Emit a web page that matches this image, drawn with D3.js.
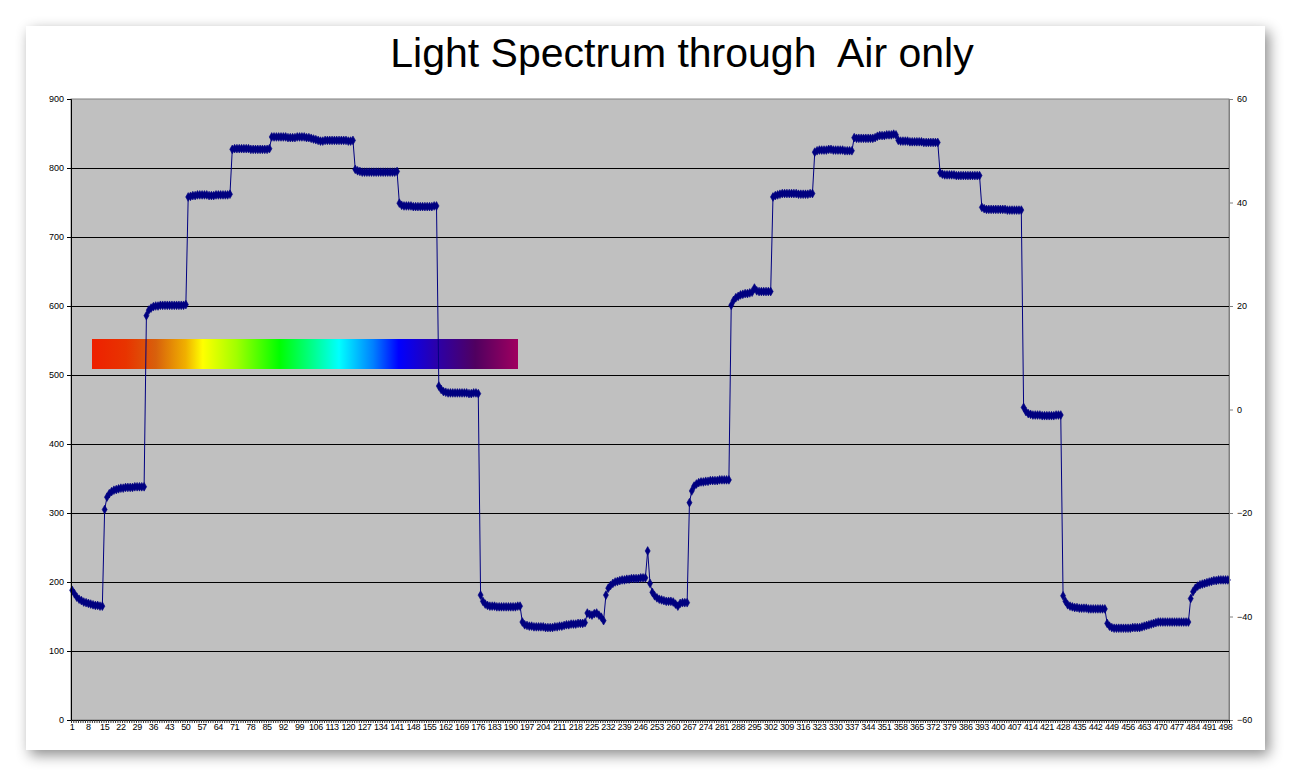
<!DOCTYPE html>
<html>
<head>
<meta charset="utf-8">
<script src="https://cdn.jsdelivr.net/npm/d3@7"></script>
<style>
  body { margin: 0; background: #fff; }
  svg { display: block; }
  text { font-family: Arial, "Liberation Sans", sans-serif; }
</style>
</head>
<body>
<svg id="chart"></svg>
<script>
// readings, one array per step of the sweep
const step01 = [188, 183, 178, 175, 173, 171, 170, 169, 168, 167, 166, 166, 165, 165];
const step02 = [305, 323, 328, 331, 333, 334, 335, 336, 336, 337, 337, 337, 337, 338, 338, 338, 338, 338];
const step03 = [586, 594, 597, 599, 600, 600, 601, 601, 601, 601, 601, 601, 601, 601, 601, 601, 601, 602];
const step04 = [758, 759, 760, 760, 761, 761, 761, 761, 761, 760, 760, 760, 761, 761, 761, 761, 761, 761, 762];
const step05 = [827, 828, 828, 828, 828, 828, 828, 828, 827, 827, 827, 827, 827, 827, 827, 827, 828];
const step06 = [845, 845, 845, 845, 845, 845, 845, 844, 844, 844, 844, 845, 845, 845, 845, 844, 844, 843, 842,
                841, 840, 839, 839, 840, 840, 840, 840, 840, 840, 840, 840, 840, 840, 839, 839, 840];
const step07 = [798, 796, 795, 794, 794, 794, 794, 794, 794, 794, 794, 794, 794, 794, 794, 794, 794, 794, 795];
const step08 = [749, 746, 745, 745, 745, 745, 744, 744, 744, 744, 744, 744, 744, 744, 744, 745, 745];
const step09 = [484, 479, 476, 475, 474, 474, 474, 474, 474, 474, 474, 474, 474, 473, 473, 474, 474, 473];
const step10 = [181, 172, 168, 166, 165, 165, 165, 164, 164, 164, 164, 164, 164, 164, 164, 164, 165, 165];
const step11 = [142, 138, 137, 136, 136, 135, 135, 135, 135, 135, 134, 134, 134, 134, 135, 135, 136, 136, 137, 138,
                138, 139, 139, 139, 140, 140, 140, 141];
const step12 = [155, 153, 152, 154, 155, 152, 149, 144];
const step13 = [181, 191, 195, 198, 200, 201, 202, 203, 203, 204, 204, 205, 205, 205, 205, 206, 206, 206, 245];
const step14 = [198, 185, 180, 177, 175, 174, 173, 172, 172, 172, 171, 168, 165, 169, 170, 170, 170];
const step15 = [315, 332, 339, 342, 344, 345, 345, 346, 346, 347, 347, 347, 347, 348, 348, 348, 348, 348];
const step16 = [601, 608, 612, 614, 616, 617, 618, 618, 619, 620, 626, 622, 621, 621, 621, 621, 621, 621];
const step17 = [758, 760, 761, 762, 763, 763, 763, 763, 763, 763, 763, 762, 762, 762, 762, 762, 763, 763];
const step18 = [823, 825, 826, 826, 826, 826, 827, 827, 826, 826, 826, 826, 826, 825, 825, 825, 825];
const step19 = [844, 843, 843, 843, 843, 843, 843, 843, 843, 844, 846, 847, 847, 847, 848, 848, 848, 849, 848];
const step20 = [840, 839, 839, 839, 839, 838, 838, 838, 838, 838, 838, 837, 837, 837, 837, 837, 837, 837];
const step21 = [793, 791, 790, 790, 790, 790, 790, 789, 789, 789, 789, 789, 789, 789, 789, 789, 789, 789];
const step22 = [743, 741, 740, 740, 740, 740, 740, 740, 740, 740, 740, 739, 739, 739, 739, 739, 739, 739];
const step23 = [453, 447, 444, 443, 442, 442, 442, 442, 441, 441, 441, 441, 441, 441, 442, 442, 442];
const step24 = [180, 172, 167, 165, 164, 163, 163, 162, 162, 162, 162, 161, 161, 161, 161, 161, 161, 161, 161];
const step25 = [140, 136, 134, 133, 133, 133, 133, 133, 133, 133, 133, 134, 134, 134, 134, 135, 136, 137, 138, 139,
                140, 141, 142, 142, 142, 142, 142, 142, 142, 142, 142, 142, 142, 142, 142, 142];
const step26 = [176, 186, 191, 194, 196, 197, 198, 199, 200, 201, 202, 202, 203, 203, 203, 203, 203];

const intensity = [].concat(step01, step02, step03, step04, step05, step06, step07, step08, step09,
  step10, step11, step12, step13, step14, step15, step16, step17, step18, step19, step20,
  step21, step22, step23, step24, step25, step26);

const categories = intensity.map((d, i) => i + 1);
const xLabels = categories.filter(c => (c - 1) % 7 === 0);
const leftTicks = [0, 100, 200, 300, 400, 500, 600, 700, 800, 900];
const rightTicks = [-60, -40, -20, 0, 20, 40, 60];
const title = 'Light Spectrum through  Air only';

const width = 1291, height = 776;
const plot = {left: 71, right: 1229, top: 99, bottom: 720};

const svg = d3.select('#chart')
  .attr('width', width)
  .attr('height', height);

const defs = svg.append('defs');

const shadow = defs.append('filter')
  .attr('id', 'shadow')
  .attr('x', '-5%').attr('y', '-5%')
  .attr('width', '110%').attr('height', '112%');
shadow.append('feDropShadow')
  .attr('dx', 4).attr('dy', 5)
  .attr('stdDeviation', 7)
  .attr('flood-color', '#000')
  .attr('flood-opacity', 0.45);

const grad = defs.append('linearGradient').attr('id', 'spectrum');
[[0, '#ee2000'], [0.08, '#e83400'], [0.15, '#d8600c'], [0.22, '#f0b000'], [0.26, '#ffff00'],
 [0.34, '#a0ff00'], [0.44, '#00ff00'], [0.52, '#00ff90'], [0.58, '#00ffff'], [0.66, '#0080ff'],
 [0.72, '#0000ff'], [0.82, '#3000a0'], [0.9, '#500060'], [1, '#a00060']]
  .forEach(s => grad.append('stop').attr('offset', s[0]).attr('stop-color', s[1]));

// white card with shadow
svg.append('rect')
  .attr('x', 26).attr('y', 26)
  .attr('width', 1239).attr('height', 724)
  .attr('fill', '#fff')
  .attr('filter', 'url(#shadow)');

const x = d3.scaleBand()
  .domain(categories)
  .range([plot.left, plot.right]);

const y = d3.scaleLinear()
  .domain([0, 900])
  .range([plot.bottom, plot.top]);

const y2 = d3.scaleLinear()
  .domain([-60, 60])
  .range([plot.bottom, plot.top]);

const cx = d => x(d) + x.bandwidth() / 2;

// plot area
svg.append('rect')
  .attr('x', plot.left).attr('y', plot.top)
  .attr('width', plot.right - plot.left)
  .attr('height', plot.bottom - plot.top)
  .attr('fill', '#c0c0c0')
  .attr('stroke', '#808080')
  .attr('stroke-width', 1);

// gridlines
svg.append('g')
  .selectAll('line')
  .data(leftTicks.filter(t => t > 0 && t < 900))
  .enter().append('line')
  .attr('x1', plot.left).attr('x2', plot.right)
  .attr('y1', d => Math.round(y(d)) + 0.5)
  .attr('y2', d => Math.round(y(d)) + 0.5)
  .attr('stroke', '#000')
  .attr('stroke-width', 1);

// spectrum bar
svg.append('rect')
  .attr('x', 92).attr('y', 339)
  .attr('width', 426).attr('height', 30)
  .attr('fill', 'url(#spectrum)');

// series
const line = d3.line()
  .x((d, i) => cx(categories[i]))
  .y(d => y(d));

svg.append('path')
  .datum(intensity)
  .attr('d', line)
  .attr('fill', 'none')
  .attr('stroke', '#000080')
  .attr('stroke-width', 1);

const diamond = d3.symbol().type(d3.symbolDiamond).size(22);
svg.append('g')
  .selectAll('path')
  .data(intensity)
  .enter().append('path')
  .attr('d', diamond)
  .attr('transform', (d, i) => 'translate(' + cx(categories[i]) + ',' + y(d) + ')')
  .attr('fill', '#000080')
  .attr('stroke', '#000080')
  .attr('stroke-width', 0.6);

// axes
const leftAxis = svg.append('g')
  .attr('transform', 'translate(' + plot.left + ',0)')
  .call(d3.axisLeft(y).tickValues(leftTicks).tickSize(4).tickPadding(3).tickFormat(d3.format('d')));

const rightAxis = svg.append('g')
  .attr('transform', 'translate(' + plot.right + ',0)')
  .call(d3.axisRight(y2).tickValues(rightTicks).tickSize(4).tickPadding(4).tickFormat(d3.format('d')));
rightAxis.select('.domain').attr('stroke', '#808080');
rightAxis.selectAll('.tick line').attr('stroke', '#808080');

const combAxis = svg.append('g')
  .attr('transform', 'translate(0,' + plot.bottom + ')')
  .call(d3.axisBottom(x).tickSize(3).tickFormat(''));
combAxis.selectAll('.tick').attr('transform', d => 'translate(' + (x(d) + 0.5) + ',0)');

const bottomAxis = svg.append('g')
  .attr('transform', 'translate(0,' + plot.bottom + ')')
  .call(d3.axisBottom(x).tickValues(xLabels).tickSize(0).tickPadding(4));
bottomAxis.select('.domain').remove();

[leftAxis, rightAxis, combAxis, bottomAxis].forEach(g => {
  g.selectAll('text')
    .style('font-family', 'Arial, "Liberation Sans", sans-serif')
    .style('font-size', '9px')
    .attr('fill', '#000');
});
bottomAxis.selectAll('text').style('letter-spacing', '-0.4px');
leftAxis.select('.domain').attr('stroke', '#000');
combAxis.select('.domain').attr('stroke', '#000');
combAxis.selectAll('.tick line').attr('stroke', '#333');

// title
svg.append('text')
  .attr('x', 682)
  .attr('y', 67)
  .attr('text-anchor', 'middle')
  .style('font-size', '41px')
  .style('white-space', 'pre')
  .attr('fill', '#000')
  .text(title);
</script>
</body>
</html>
